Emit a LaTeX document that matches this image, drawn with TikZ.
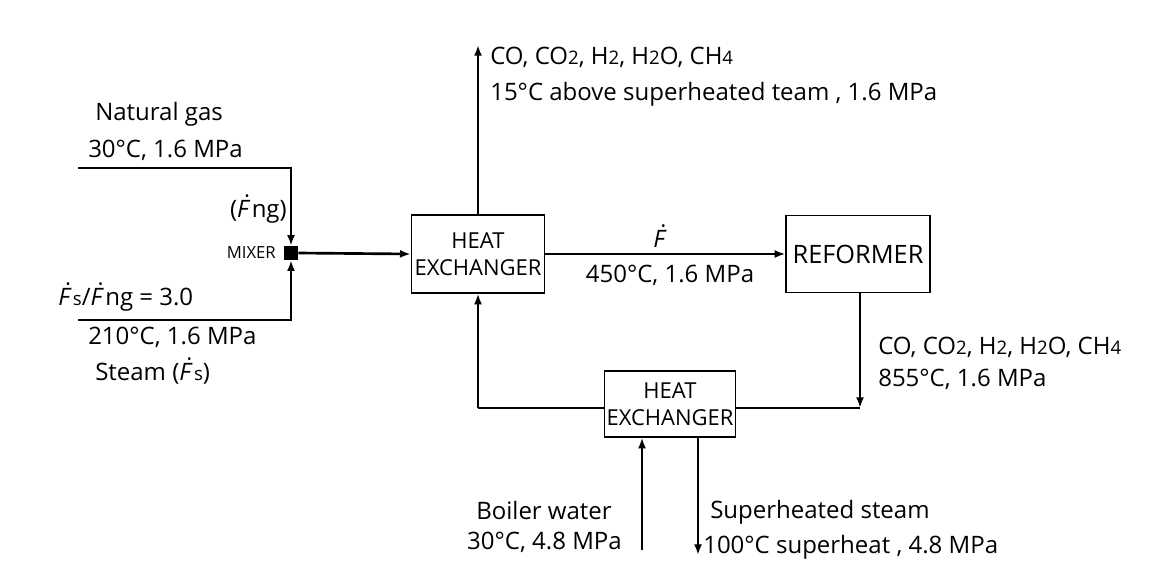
\documentclass[tikz,border=0pt]{standalone}
\usepackage{fontspec}
\setmainfont{Open Sans}
\usetikzlibrary{arrows.meta}
\newcommand\Fdot{\leavevmode\rlap{\hspace{0.32em}\raisebox{0.68em}{\scalebox{0.5}{\textbullet}}}\textit{F}}
\newcommand\sbs[1]{{\fontsize{14}{14}\selectfont #1}}
\begin{document}
\begin{tikzpicture}[x=0.75pt,y=-0.75pt,
  every node/.style={font=\fontsize{18}{21}\selectfont},
  box/.style={draw,line width=1pt,align=center,inner sep=0pt,font=\fontsize{16.5}{20}\selectfont},
  line/.style={line width=2pt},
  arr/.style={line width=2pt,-{Latex[length=8pt,width=6pt]}},
  lbl/.style={inner sep=0pt}]
\useasboundingbox (0,0) rectangle (1176,586);
\node[box,minimum width=100pt,minimum height=58.5pt] (hx1) at (478,254) {HEAT\\EXCHANGER};
\node[box,minimum width=108pt,minimum height=58pt,font=\fontsize{19}{22}\selectfont] (ref) at (858,254) {REFORMER};
\node[box,minimum width=98pt,minimum height=49.5pt] (hx2) at (670,404) {HEAT\\EXCHANGER};
\node[fill,minimum size=10.5pt,inner sep=0pt] (mix) at (291,253) {};
\coordinate (ng) at (78,168);
\coordinate (st) at (78,320);
\coordinate (top) at (478,45);
\coordinate (rc) at (860,408);
\coordinate (lc) at (478,408);
\coordinate (bw) at (642,550);
\coordinate (ss) at (698,555);
\draw[arr] (ng) -| (mix.north);
\draw[arr] (st) -| (mix.south);
\draw[arr] (mix.east) -- (hx1.west);
\draw[arr] (hx1.north) -- (top);
\draw[arr] (hx1.east) -- (ref.west);
\draw[arr] (ref.south -| rc) -- (rc);
\draw[line] (rc) -- (hx2.east |- rc);
\draw[line] (hx2.west |- lc) -- (lc);
\draw[arr] (lc) -- (hx1.south);
\draw[arr] (bw) -- (hx2.south -| bw);
\draw[arr] (hx2.south -| ss) -- (ss);
\node[lbl,anchor=west] (t1) at (95,114) {Natural gas};
\node[lbl,anchor=west] (t2) at (88,150) {30°C, 1.6 MPa};
\node[lbl,anchor=east] (t3) at (287,209) {(\Fdot\kern1pt ng)};
\node[lbl,anchor=east,font=\fontsize{12.5}{14}\selectfont] (t4) at (276,253) {MIXER};
\node[lbl,anchor=west] (t5) at (58,297) {\Fdot\kern1pt\sbs{s}/\Fdot\kern1pt ng = 3.0};
\node[lbl,anchor=west] (t6) at (88,337) {210°C, 1.6 MPa};
\node[lbl,anchor=west] (t7) at (95,371) {Steam (\Fdot\kern1pt\sbs{s})};
\node[lbl,anchor=west] (t8) at (490,57) {CO, CO\sbs{2}, H\sbs{2}, H\sbs{2}O, CH\sbs{4}};
\node[lbl,anchor=west] (t9) at (490,94) {15°C above superheated team , 1.6 MPa};
\node[lbl] (t10) at (660,236) {\Fdot};
\node[lbl] (t11) at (670,275) {450°C, 1.6 MPa};
\node[lbl,anchor=west] (t12) at (878,347) {CO, CO\sbs{2}, H\sbs{2}, H\sbs{2}O, CH\sbs{4}};
\node[lbl,anchor=west] (t13) at (878,379) {855°C, 1.6 MPa};
\node[lbl,anchor=east] (t14) at (612,510) {Boiler water};
\node[lbl,anchor=east] (t15) at (622,542) {30°C, 4.8 MPa};
\node[lbl,anchor=west] (t16) at (710,512) {Superheated steam};
\node[lbl,anchor=west] (t17) at (703,547) {100°C superheat , 4.8 MPa};
\end{tikzpicture}
\end{document}
